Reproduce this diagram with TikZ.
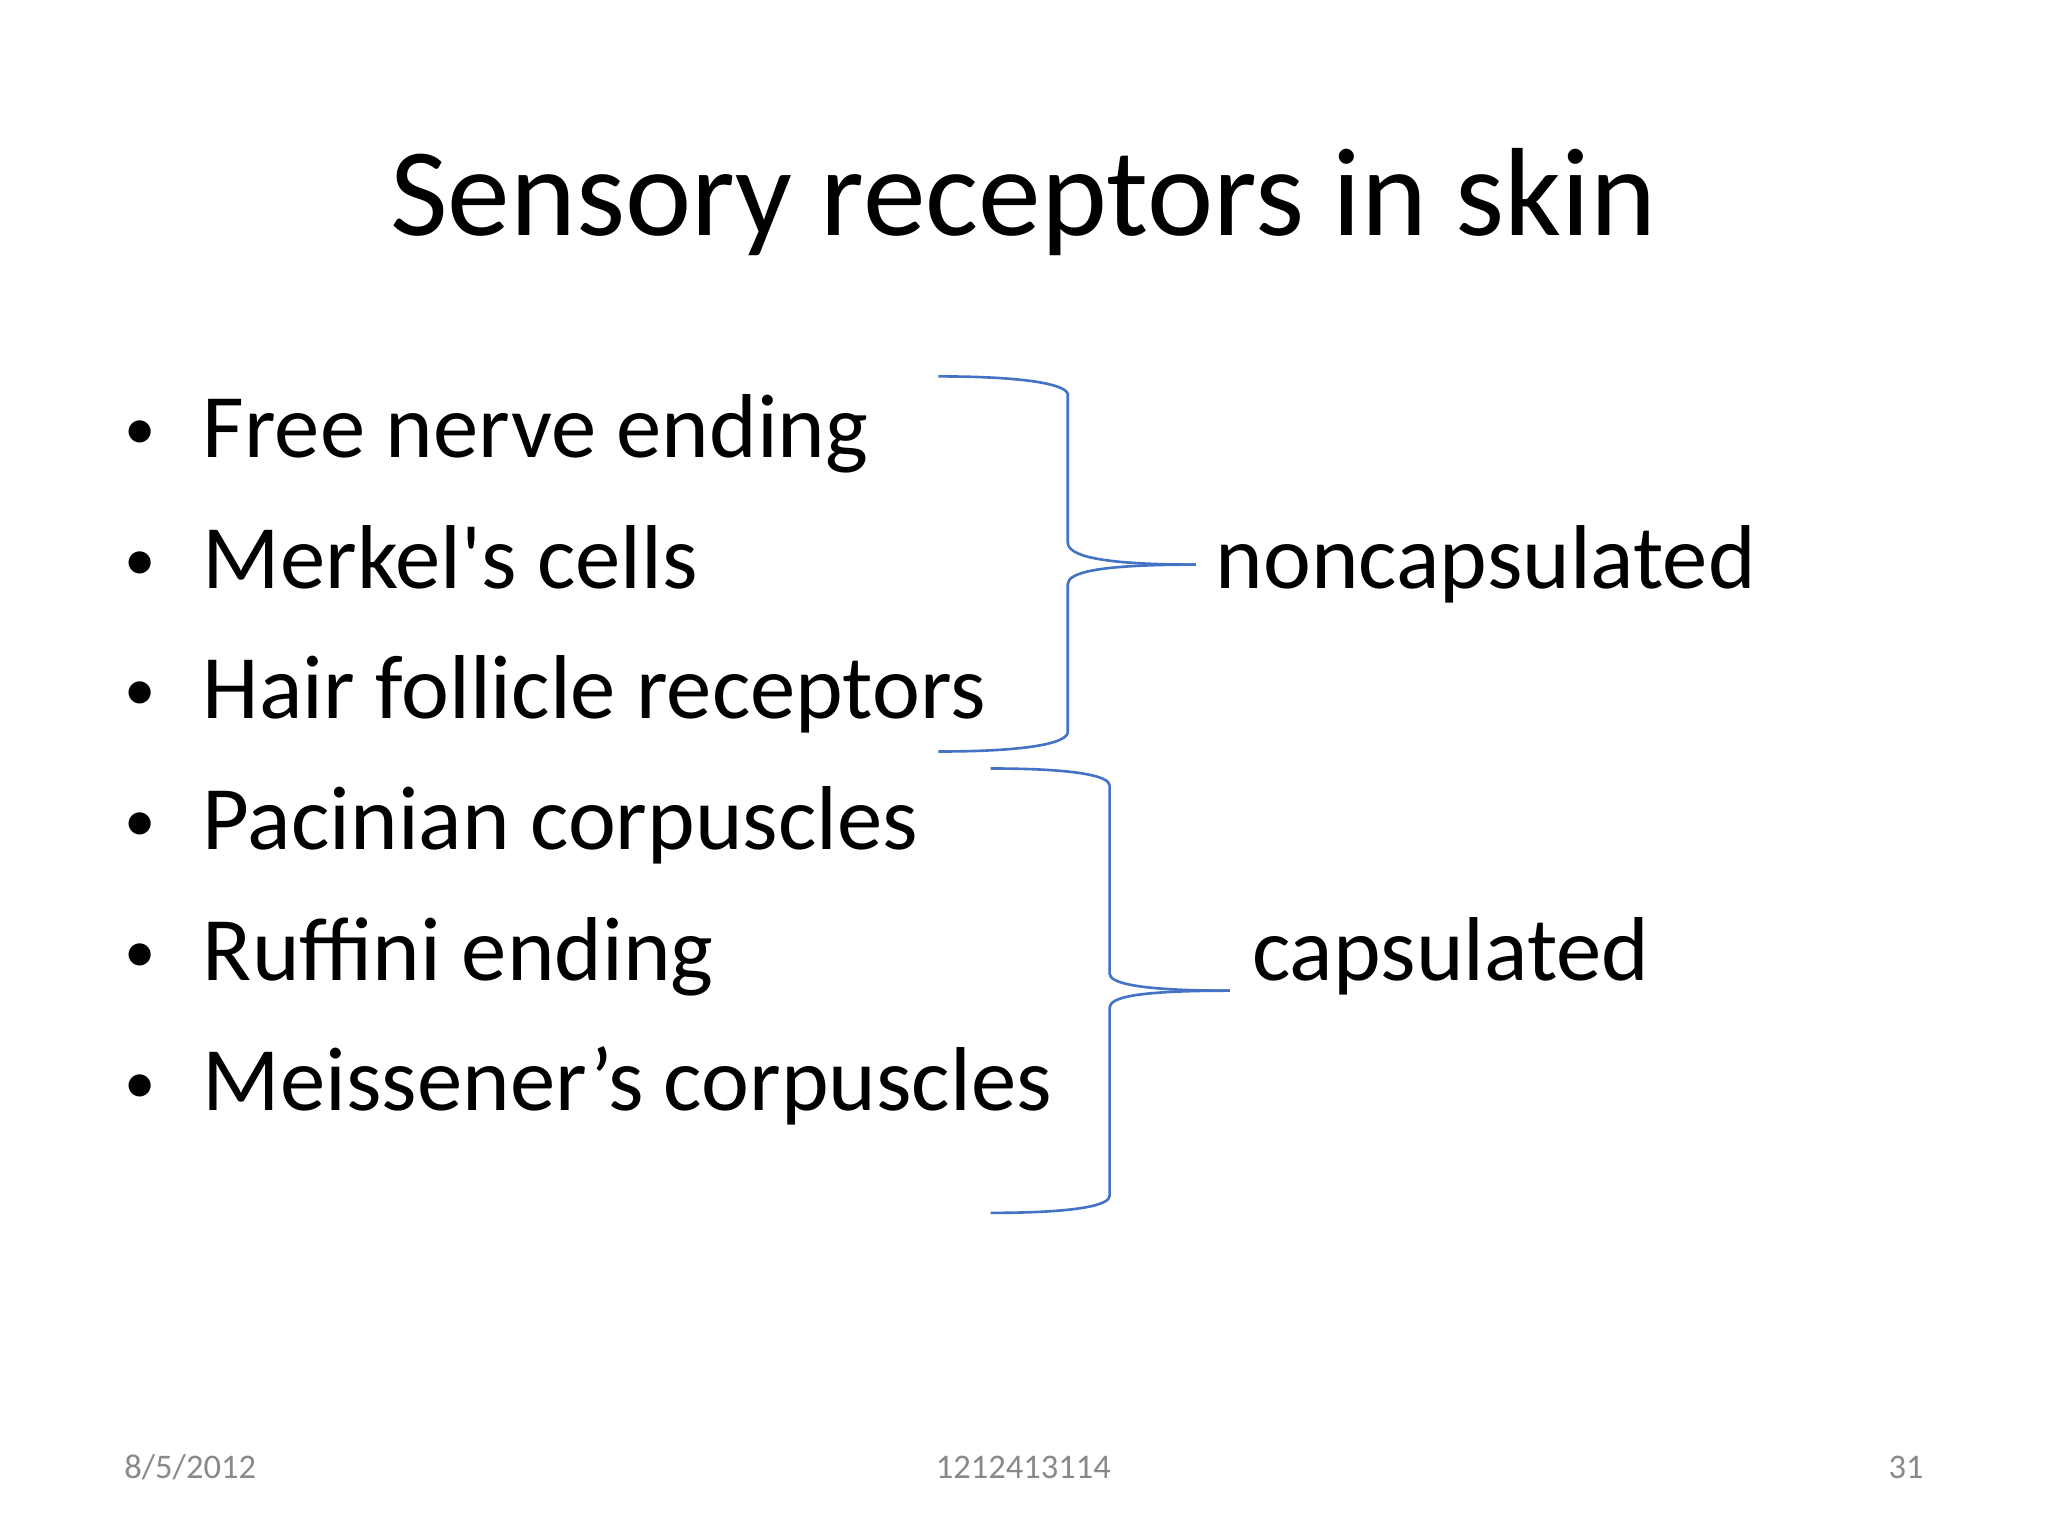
\documentclass[tikz,border=0pt]{standalone}
\usepackage{fontspec}
\setmainfont{Carlito}
\definecolor{brace}{RGB}{68,114,196}
\definecolor{foot}{RGB}{137,137,137}
\begin{document}
\begin{tikzpicture}[x=1pt,y=-1pt,
  item/.style={anchor=base west,inner sep=0pt,font=\fontsize{69.4}{75}\selectfont},
  bul/.style={anchor=base,inner sep=0pt,font=\fontsize{48}{50}\selectfont},
  ft/.style={inner sep=0pt,text=foot,font=\fontsize{26.4}{28}\selectfont},
  br/.style={draw=brace,line width=2pt}]
\useasboundingbox (0,0) rectangle (1567,1175);
\fill[white] (0,0) rectangle (1567,1175);
\node[anchor=base,inner sep=0pt,font=\fontsize{96}{105}\selectfont] (title) at (783,180) {Sensory receptors in skin};
\foreach \t [count=\i] in {Free nerve ending,Merkel\textquotesingle s cells,Hair follicle receptors,Pacinian corpuscles,Ruffini ending,Meissener’s corpuscles}{
  \node[bul] (b\i) at (107,244+100*\i) {•};
  \node[item] (t\i) at (155,250+100*\i) {\t};
}
\node[item] (nc) at (930,450) {noncapsulated};
\node[item] (c) at (958,750) {capsulated};
\coordinate (n1) at (718,288); \coordinate (n2) at (915,432); \coordinate (n3) at (718,575);
\draw[br] (n1) .. controls (790,288) and (817,295) .. (817,302) -- (817,415)
  .. controls (817,425) and (840,432) .. (n2);
\draw[br] (n2) .. controls (840,432) and (817,438) .. (817,447) -- (817,560)
  .. controls (817,568) and (790,575) .. (n3);
\coordinate (m1) at (758,588); \coordinate (m2) at (941,758); \coordinate (m3) at (758,928);
\draw[br] (m1) .. controls (825,588) and (849,594) .. (849,601) -- (849,745)
  .. controls (849,752) and (870,758) .. (m2);
\draw[br] (m2) .. controls (870,758) and (849,763) .. (849,771) -- (849,915)
  .. controls (849,922) and (825,928) .. (m3);
\node[ft,anchor=base west] (d) at (95,1131) {8/5/2012};
\node[ft,anchor=base] (id) at (783,1131) {1212413114};
\node[ft,anchor=base east] (pg) at (1472,1131) {31};
\end{tikzpicture}
\end{document}
